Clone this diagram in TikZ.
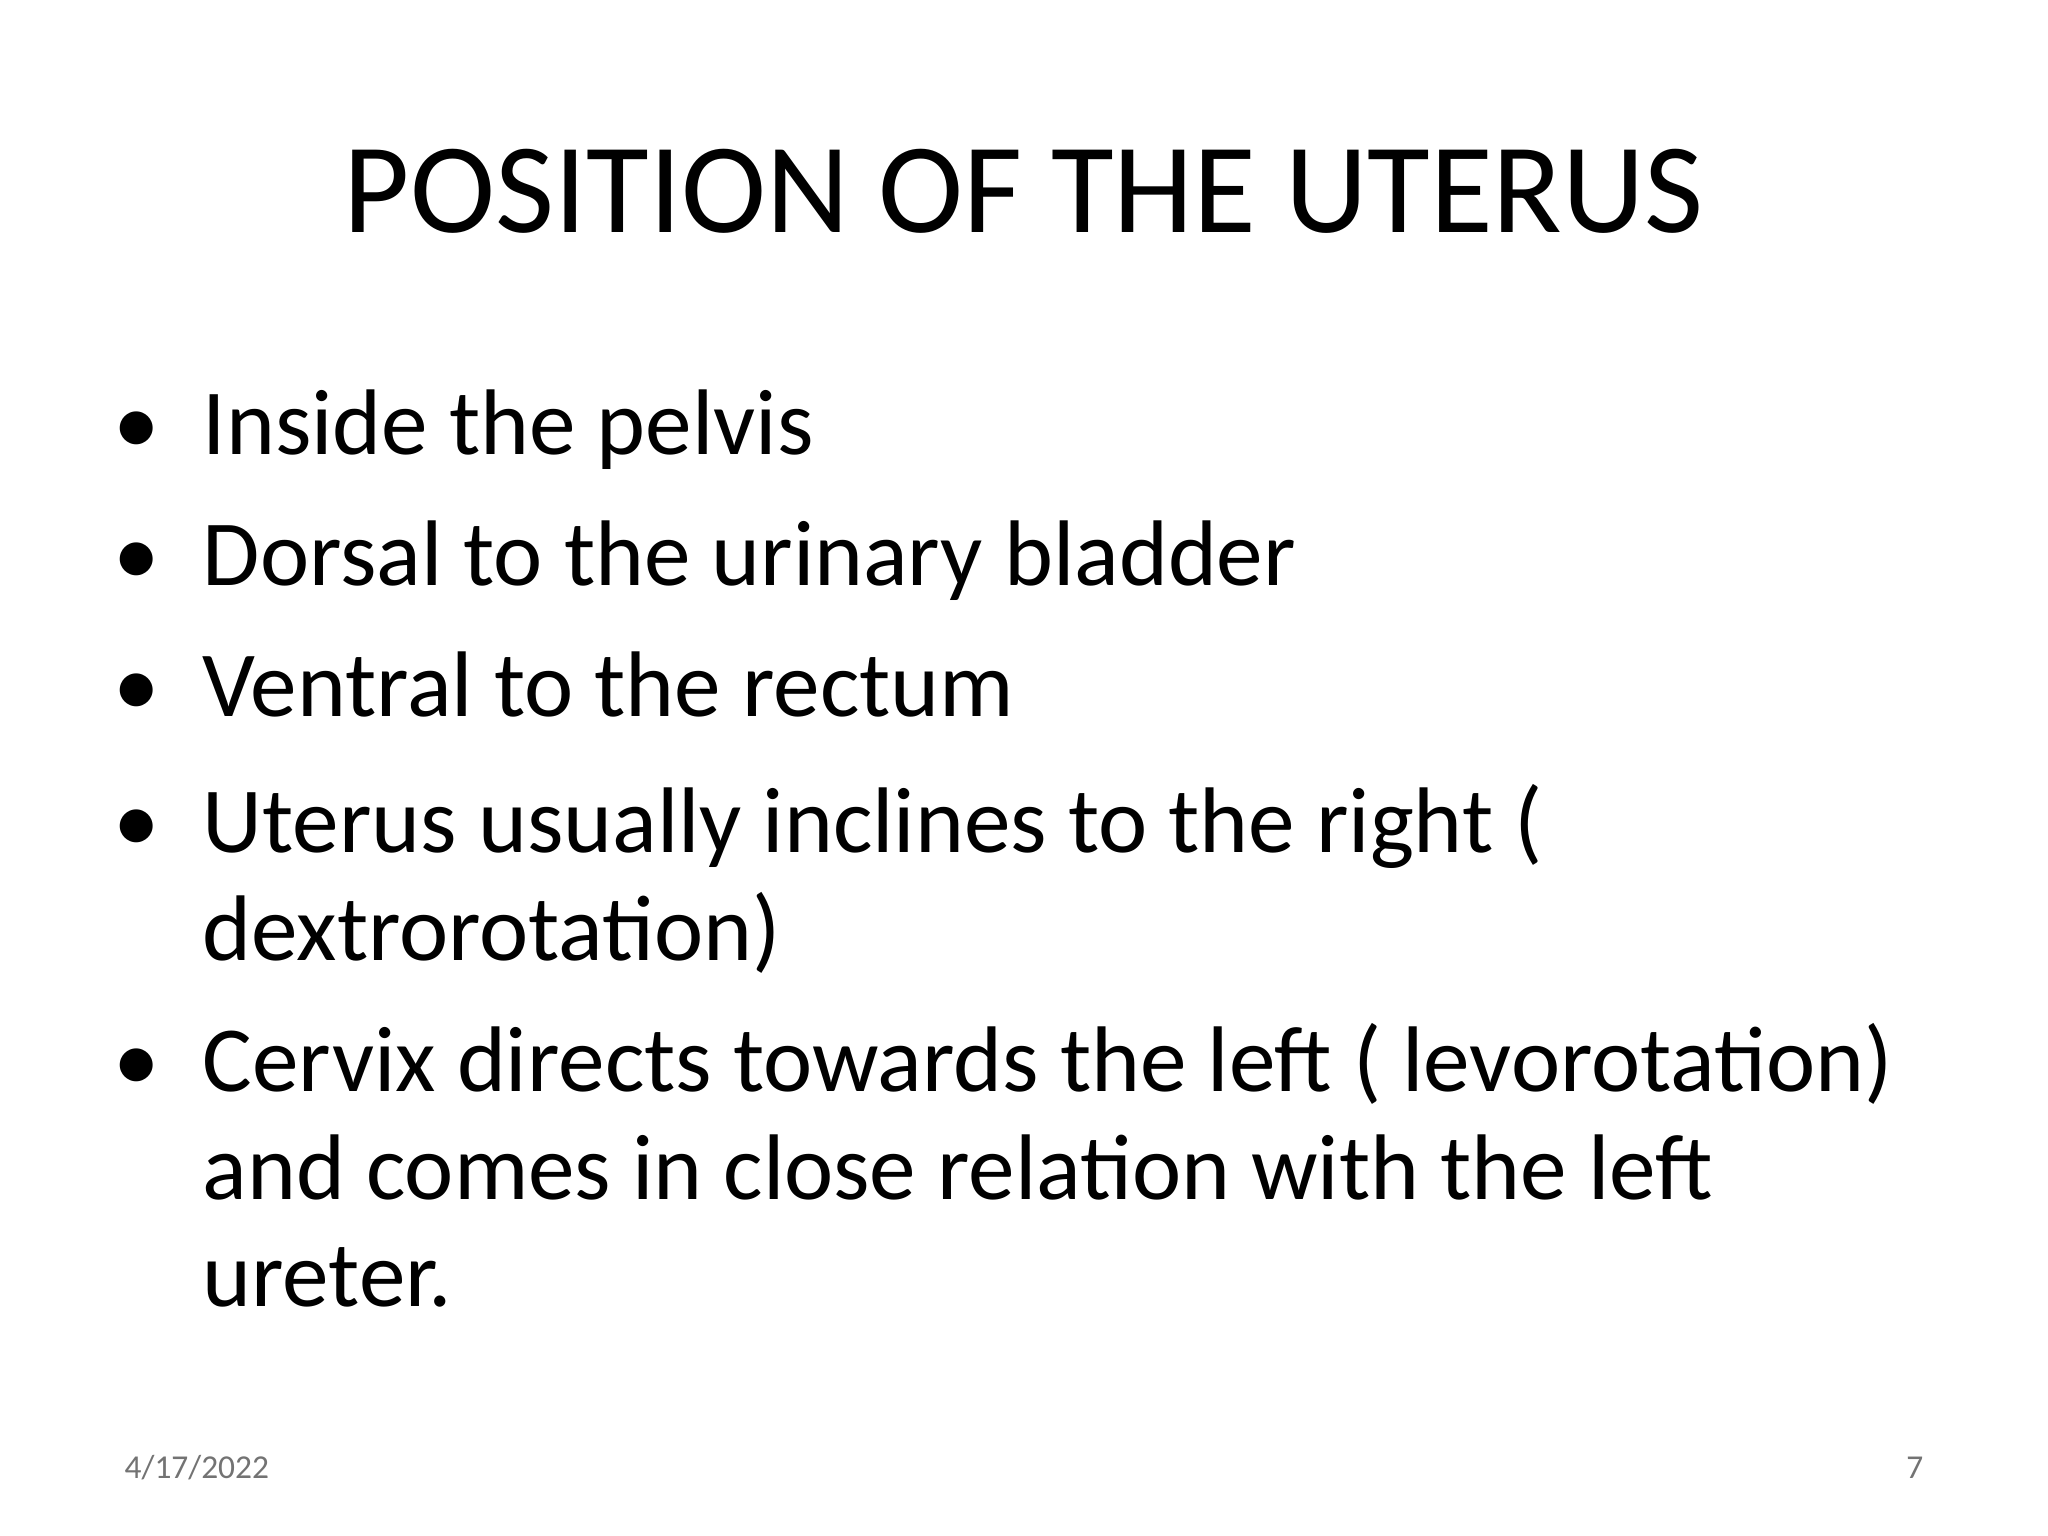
\documentclass[tikz,border=0pt]{standalone}
\usepackage{fontspec}
\setmainfont{Carlito}
\begin{document}
\begin{tikzpicture}[x=0.01cm,y=-0.01cm,
  body/.style={anchor=base west,inner sep=0,font=\fontsize{26.5}{30}\selectfont},
  bul/.style={anchor=base,inner sep=0,font=\fontsize{26.5}{30}\selectfont},
  foot/.style={inner sep=0,font=\fontsize{9.5}{11}\selectfont,text=black!55}]
\useasboundingbox[fill=white] (0,0) rectangle (2048,1536);
\node[anchor=base,inner sep=0,font=\fontsize{36.5}{40}\selectfont] (title) at (1024,232) {POSITION OF THE UTERUS};
\node[bul] (b1) at (137,454) {•};
\node[body] (t1) at (202,454) {Inside the pelvis};
\node[bul] (b2) at (137,585) {•};
\node[body] (t2) at (202,585) {Dorsal to the urinary bladder};
\node[bul] (b3) at (137,716) {•};
\node[body] (t3) at (202,716) {Ventral to the rectum};
\node[bul] (b4) at (137,852) {•};
\node[body] (t4) at (202,852) {Uterus usually inclines to the right (};
\node[body] (t4b) at (202,960) {dextrorotation)};
\node[bul] (b5) at (137,1091) {•};
\node[body] (t5) at (202,1091) {Cervix directs towards the left ( levorotation)};
\node[body] (t5b) at (202,1199) {and comes in close relation with the left};
\node[body] (t5c) at (202,1306) {ureter.};
\node[foot,anchor=base west] (date) at (124,1478) {4/17/2022};
\node[foot,anchor=base east] (num) at (1924,1478) {7};
\end{tikzpicture}
\end{document}
